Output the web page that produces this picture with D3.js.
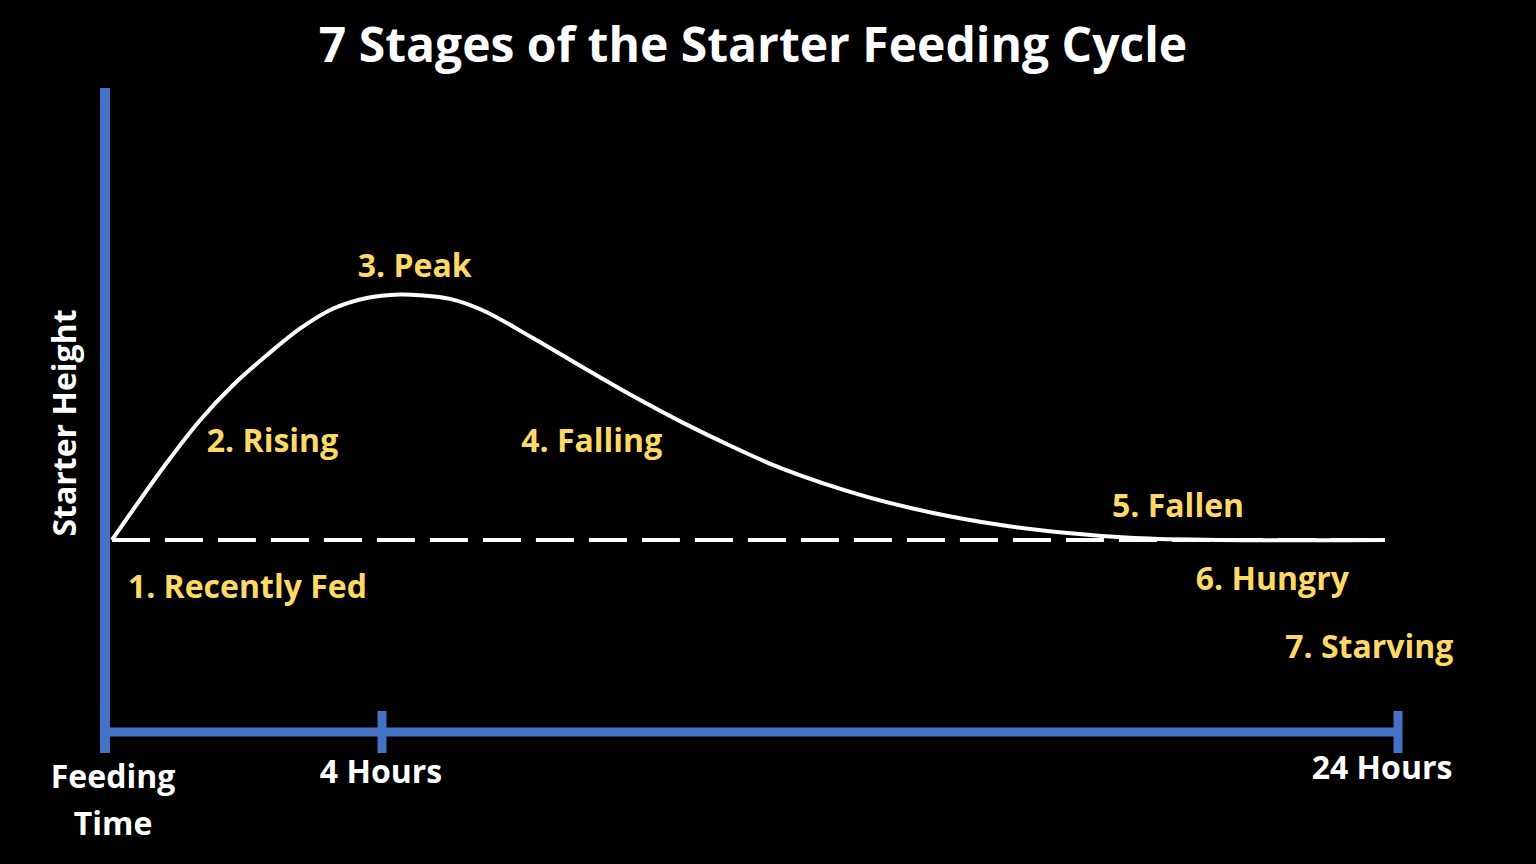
<!DOCTYPE html>
<html>
<head>
<meta charset="utf-8">
<script src="https://cdn.jsdelivr.net/npm/d3@7"></script>
<style>
  html, body { margin: 0; padding: 0; background: #000; }
  svg { display: block; }
  text { font-family: "Open Sans", Lato, sans-serif; font-weight: bold; }
</style>
</head>
<body>
<script>
// hours since feeding vs. relative starter height (0 = level right after feeding, 100 = peak)
var hours  = [0.1, 0.9, 1.37, 1.85, 2.34, 2.82, 3.29, 3.78, 4.35, 4.75, 5.34, 5.99, 6.97,
              7.96, 8.94, 9.93, 10.91, 11.89, 13.55, 14.85, 16.18, 17.5, 18.8, 20.5, 23.74];
var height = [0, 31.7, 48.6, 63.0, 75.2, 86.0, 94.0, 98.4, 99.8, 99.5, 98.0, 93.3, 82.1,
              70.1, 58.5, 47.6, 37.8, 28.9, 17.5, 11.0, 6.1, 2.8, 0.8, 0, 0];

var stages = ['1. Recently Fed', '2. Rising', '3. Peak', '4. Falling', '5. Fallen', '6. Hungry', '7. Starving'];

var tickHours  = [0, 4, 24];
var tickLabels = [['Feeding', 'Time'], ['4 Hours'], ['24 Hours']];

var title = '7 Stages of the Starter Feeding Cycle';
var yLabel = 'Starter Height';

var fullWidth = 1536;
var fullHeight = 864;

var blue = '#4472C4';
var gold = '#FFD966';

var svg = d3.select('body').append('svg')
  .attr('width', fullWidth)
  .attr('height', fullHeight)
  .style('background', '#000');

// time axis is not linear: first 4 hours get stretched
var x = d3.scaleLinear()
  .domain([0, 4, 24])
  .range([105, 382, 1398]);

var y = d3.scaleLinear()
  .domain([0, 100])
  .range([540, 294]);

svg.append('text')
  .attr('x', 753)
  .attr('y', 62)
  .attr('text-anchor', 'middle')
  .attr('fill', '#fff')
  .style('font-size', '48px')
  .text(title);

// axes
svg.append('line')
  .attr('x1', x(0)).attr('x2', x(0))
  .attr('y1', 88).attr('y2', 753)
  .attr('stroke', blue)
  .attr('stroke-width', 10);

svg.append('line')
  .attr('x1', x(0)).attr('x2', x(24) + 4)
  .attr('y1', 732).attr('y2', 732)
  .attr('stroke', blue)
  .attr('stroke-width', 9);

svg.selectAll('.tick-mark')
  .data(tickHours.slice(1))
  .enter().append('line')
    .classed('tick-mark', true)
    .attr('x1', function(d) { return x(d); })
    .attr('x2', function(d) { return x(d); })
    .attr('y1', 711).attr('y2', 753)
    .attr('stroke', blue)
    .attr('stroke-width', 9);

var tickShift = [8, -1, -16];
var tickText = svg.selectAll('.tick-label')
  .data(tickHours)
  .enter().append('text')
    .classed('tick-label', true)
    .attr('text-anchor', 'middle')
    .attr('fill', '#fff')
    .style('font-size', '32px')
    .attr('transform', function(d, i) {
      return 'translate(' + (x(d) + tickShift[i]) + ',' + (i === 1 ? 783 : i === 2 ? 779 : 788) + ')';
    });

tickText.selectAll('tspan')
  .data(function(d, i) { return tickLabels[i]; })
  .enter().append('tspan')
    .attr('x', 0)
    .attr('dy', function(d, i) { return i === 0 ? 0 : 47; })
    .text(function(d) { return d; });

svg.append('text')
  .attr('transform', 'translate(76,423)rotate(-90)')
  .attr('text-anchor', 'middle')
  .attr('fill', '#fff')
  .style('font-size', '32px')
  .text(yLabel);

// baseline + curve
var pts = hours.map(function(h, i) { return [h, height[i]]; });

svg.append('line')
  .attr('x1', x(hours[0])).attr('x2', x(hours[hours.length - 1]))
  .attr('y1', y(0)).attr('y2', y(0))
  .attr('stroke', '#fff')
  .attr('stroke-width', 4)
  .attr('stroke-dasharray', '38,15');

var line = d3.line()
  .x(function(d) { return x(d[0]); })
  .y(function(d) { return y(d[1]); })
  .curve(d3.curveCatmullRom.alpha(0.5));

svg.append('path')
  .datum(pts)
  .attr('d', line)
  .attr('fill', 'none')
  .attr('stroke', '#fff')
  .attr('stroke-width', 4);

// stage labels, left edge / baseline in (hours, height) units
var stagePos = [[0.33, -23.6], [1.47, 35.8], [3.65, 106.9], [6.74, 35.8], [18.37, 9.3], [20.02, -20.3], [21.78, -48.0]];

svg.selectAll('.stage')
  .data(stages)
  .enter().append('text')
    .classed('stage', true)
    .attr('x', function(d, i) { return x(stagePos[i][0]); })
    .attr('y', function(d, i) { return y(stagePos[i][1]); })
    .attr('fill', gold)
    .style('font-size', '32px')
    .text(function(d) { return d; });
</script>
</body>
</html>
